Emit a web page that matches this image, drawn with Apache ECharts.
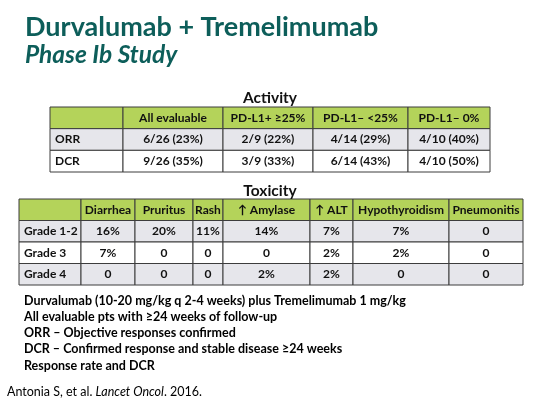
<!DOCTYPE html>
<html>
<head>
<meta charset="utf-8">
<script src="https://cdn.jsdelivr.net/npm/echarts@6/dist/echarts.min.js"></script>
<style>
  html, body { margin: 0; padding: 0; background: #fff; }
  #main { width: 540px; height: 405px; }
</style>
</head>
<body>
<div id="main"></div>
<script>
// table contents
var activityCols = ['All evaluable', 'PD-L1+ \u226525%', 'PD-L1\u2013 <25%', 'PD-L1\u2013 0%'];
var activityRows = ['ORR', 'DCR'];
var orrValues = ['6/26 (23%)', '2/9 (22%)', '4/14 (29%)', '4/10 (40%)'];
var dcrValues = ['9/26 (35%)', '3/9 (33%)', '6/14 (43%)', '4/10 (50%)'];

var toxicityCols = ['Diarrhea', 'Pruritus', 'Rash', '\u2191 Amylase', '\u2191 ALT', 'Hypothyroidism', 'Pneumonitis'];
var toxicityRows = ['Grade 1-2', 'Grade 3', 'Grade 4'];
var grade12Values = ['16%', '20%', '11%', '14%', '7%', '7%', '0'];
var grade3Values = ['7%', '0', '0', '0', '2%', '2%', '0'];
var grade4Values = ['0', '0', '0', '2%', '2%', '0', '0'];

// column widths (layout only)
var activityWidths = [73, 100, 90, 95, 82];
var toxicityWidths = [62, 54, 58, 30, 87, 43, 96, 74];

var notes = [
    'Durvalumab (10-20 mg/kg q 2-4 weeks) plus Tremelimumab 1 mg/kg',
    'All evaluable pts with \u226524 weeks of follow-up',
    'ORR \u2013 Objective responses confirmed',
    'DCR \u2013 Confirmed response and stable disease \u226524 weeks',
    'Response rate and DCR'
];

var FONT = 'Lato, "Open Sans", sans-serif';

function edgesOf(widths) {
    var e = [0];
    widths.forEach(function (w) { e.push(e[e.length - 1] + w); });
    return e;
}

function buildCells(cols, rows, values) {
    var cells = [{ col: 0, row: 0, text: '', kind: 'head' }];
    cols.forEach(function (c, i) {
        cells.push({ col: i + 1, row: 0, text: c, kind: 'head' });
    });
    rows.forEach(function (r, j) {
        cells.push({ col: 0, row: j + 1, text: r, kind: 'label' });
        values[j].forEach(function (v, i) {
            cells.push({ col: i + 1, row: j + 1, text: v, kind: 'cell' });
        });
    });
    return cells;
}

function makeRender(cells, edges) {
    return function (params, api) {
        var d = cells[params.dataIndex];
        var p0 = api.coord([edges[d.col], d.row]);
        var p1 = api.coord([edges[d.col + 1], d.row]);
        var h = api.size([0, 1])[1];
        var fill = d.kind === 'head' ? '#b4d35a' : (d.row % 2 === 1 ? '#e6e6eb' : '#ffffff');
        var x = p0[0], y = p0[1] - h / 2, w = p1[0] - p0[0];
        return {
            type: 'group',
            children: [{
                type: 'rect',
                shape: { x: x, y: y, width: w, height: h },
                style: { fill: fill, stroke: '#3c3c3c', lineWidth: 1 }
            }, {
                type: 'text',
                x: d.kind === 'label' ? x + 5 : x + w / 2,
                y: y + h / 2,
                style: {
                    text: d.text,
                    fill: '#111',
                    font: 'bold 12px ' + FONT,
                    align: d.kind === 'label' ? 'left' : 'center',
                    verticalAlign: 'middle'
                }
            }]
        };
    };
}

var actCells = buildCells(activityCols, activityRows, [orrValues, dcrValues]);
var toxCells = buildCells(toxicityCols, toxicityRows, [grade12Values, grade3Values, grade4Values]);
var actEdges = edgesOf(activityWidths);
var toxEdges = edgesOf(toxicityWidths);

var dom = document.getElementById('main');
var myChart = echarts.init(dom);
var option = {
    backgroundColor: '#ffffff',
    animation: false,
    title: [
        {
            text: 'Durvalumab + Tremelimumab',
            left: 20, top: 9,
            textStyle: { color: '#0d5e5a', fontSize: 27, fontWeight: 'bold', fontFamily: FONT }
        },
        {
            text: 'Phase Ib Study',
            left: 20, top: 38,
            textStyle: { color: '#0d5e5a', fontSize: 24.5, fontWeight: 'bold', fontStyle: 'italic', fontFamily: FONT }
        },
        {
            text: 'Activity',
            left: 'center', top: 85,
            textStyle: { color: '#111', fontSize: 15.5, fontWeight: 'bold', fontFamily: FONT }
        },
        {
            text: 'Toxicity',
            left: 'center', top: 178,
            textStyle: { color: '#111', fontSize: 15.5, fontWeight: 'bold', fontFamily: FONT }
        }
    ],
    grid: [
        { left: 50, top: 107, width: actEdges[actEdges.length - 1], height: 65 },
        { left: 19, top: 199, width: toxEdges[toxEdges.length - 1], height: 86 }
    ],
    xAxis: [
        { gridIndex: 0, type: 'value', min: 0, max: actEdges[actEdges.length - 1], show: false },
        { gridIndex: 1, type: 'value', min: 0, max: toxEdges[toxEdges.length - 1], show: false }
    ],
    yAxis: [
        { gridIndex: 0, type: 'category', inverse: true, data: [''].concat(activityRows), show: false },
        { gridIndex: 1, type: 'category', inverse: true, data: [''].concat(toxicityRows), show: false }
    ],
    series: [
        {
            type: 'custom', xAxisIndex: 0, yAxisIndex: 0,
            renderItem: makeRender(actCells, actEdges),
            data: actCells.map(function (c) { return [actEdges[c.col], c.row]; })
        },
        {
            type: 'custom', xAxisIndex: 1, yAxisIndex: 1,
            renderItem: makeRender(toxCells, toxEdges),
            data: toxCells.map(function (c) { return [toxEdges[c.col], c.row]; })
        }
    ],
    graphic: notes.map(function (t, i) {
        return {
            type: 'text', left: 24, top: 294 + i * 16.3,
            style: { text: t, fill: '#000', font: 'bold 12.5px ' + FONT }
        };
    }).concat([{
        type: 'text', left: 7, top: 385,
        style: {
            rich: {
                n: { fontSize: 12.5, fontFamily: FONT, color: '#222' },
                i: { fontSize: 12.5, fontFamily: FONT, fontStyle: 'italic', color: '#222' }
            },
            text: '{n|Antonia S, et al. }{i|Lancet Oncol}{n|. 2016.}'
        }
    }])
};
myChart.setOption(option);
</script>
</body>
</html>
